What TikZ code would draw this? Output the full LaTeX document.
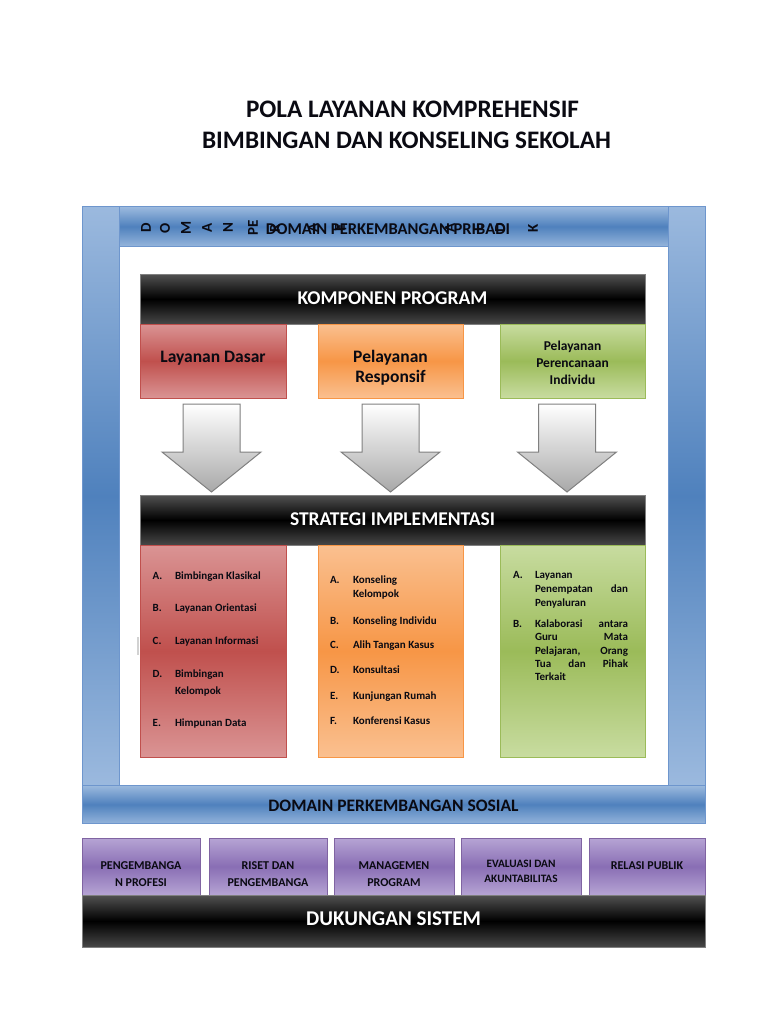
\documentclass[tikz,border=0pt]{standalone}
\usepackage{fontspec}
\setmainfont{Carlito}
\usetikzlibrary{calc}
\definecolor{blueL}{RGB}{155,185,222}
\definecolor{blueD}{RGB}{79,129,189}
\definecolor{blueB}{RGB}{110,150,205}
\definecolor{redL}{RGB}{218,148,148}
\definecolor{redD}{RGB}{192,80,77}
\definecolor{orL}{RGB}{250,192,144}
\definecolor{orD}{RGB}{247,150,70}
\definecolor{grL}{RGB}{200,220,160}
\definecolor{grD}{RGB}{155,187,89}
\definecolor{puL}{RGB}{182,164,212}
\definecolor{puD}{RGB}{137,110,180}
\definecolor{puB}{RGB}{128,100,162}
\definecolor{txt}{RGB}{10,10,18}
\definecolor{arrG}{RGB}{168,168,168}
\definecolor{arrB}{RGB}{128,128,128}
\tikzset{
  box/.style={inner sep=0pt, outer sep=0pt, line width=1pt},
  bluecol/.style={box, draw=blueB, top color=blueL, bottom color=blueL, middle color=blueD},
  blueband/.style={box, draw=blueB, top color=blueL, bottom color=blueL!90!blueD, middle color=blueD},
  blackbar/.style={box, draw=gray, top color=black!68, bottom color=black!72, middle color=black},
  redbox/.style={box, draw=redD, top color=redL, bottom color=redL, middle color=redD},
  orbox/.style={box, draw=orD, top color=orL, bottom color=orL, middle color=orD},
  grbox/.style={box, draw=grD, top color=grL, bottom color=grL, middle color=grD},
  pubox/.style={box, draw=puB, top color=puL, bottom color=puL, middle color=puD},
  lbl/.style={inner sep=0pt, outer sep=0pt, anchor=base, text=txt, font=\bfseries},
  wlbl/.style={inner sep=0pt, outer sep=0pt, anchor=base, text=white, font=\bfseries\fontsize{19.5}{20}\selectfont},
  itm/.style={inner sep=0pt, outer sep=0pt, anchor=base west, text=txt, font=\bfseries\fontsize{11}{13}\selectfont},
  rotl/.style={inner sep=0pt, outer sep=0pt, rotate=90, text=txt, font=\bfseries\fontsize{15}{15}\selectfont},
  puitm/.style={inner sep=0pt, outer sep=0pt, anchor=base, text=txt, font=\bfseries\fontsize{12}{13}\selectfont},
  bigarrow/.style={draw=arrB, line width=1pt, top color=white, bottom color=arrG},
}
\newcommand{\downblock}[1]{%
  \path[bigarrow] (#1-28.5,404) -- (#1+28.5,404) -- (#1+28.5,452) -- (#1+49.5,452)
    -- (#1,492) -- (#1-49.5,452) -- (#1-28.5,452) -- cycle;}
\begin{document}
\begin{tikzpicture}[x=1pt,y=-1pt]
\useasboundingbox[fill=white] (0,0) rectangle (768,1024);

% title
\node[lbl, font=\bfseries\fontsize{25.2}{26}\selectfont] (t1) at (412.5,118) {POLA LAYANAN KOMPREHENSIF};
\node[lbl, font=\bfseries\fontsize{25.2}{26}\selectfont] (t2) at (406.5,149) {BIMBINGAN DAN KONSELING SEKOLAH};

% blue frame
\node[bluecol, minimum width=37pt, minimum height=578pt] (lcol) at (100.5,496) {};
\node[bluecol, minimum width=37pt, minimum height=578pt] (rcol) at (686.5,496) {};
\node[blueband, minimum width=549pt, minimum height=39pt] (pribadi) at (393.5,226.5) {};
\node[blueband, minimum width=623pt, minimum height=38pt] (sosial) at (393.5,804.5) {};
\node[lbl, font=\bfseries\fontsize{17.5}{18}\selectfont] (sosialt) at (393.5,811.5) {DOMAIN PERKEMBANGAN SOSIAL};

% garbled top band text
\node[lbl, font=\bfseries\fontsize{16.5}{17}\selectfont] (pribadit) at (388,234.5) {DOMAIN PERKEMBANGAN PRIBADI};
\foreach \n/\x/\c in {r1/146/D, r2/165/O, r3/186/M, r4/207/A, r5/228/N, r6/253/PE, r7/275/R, r8/313/A, r9/340/E, r10/450/A, r11/478/E, r12/500/D, r13/533/K}
  \node[rotl] (\n) at (\x,228) {\c};

% komponen program
\node[blackbar, minimum width=505pt, minimum height=50pt] (komp) at (392.5,299) {};
\node[wlbl] (kompt) at (392.5,304.5) {KOMPONEN PROGRAM};
\node[redbox, minimum width=146pt, minimum height=74pt] (dasar) at (213,361) {};
\node[orbox, minimum width=145pt, minimum height=74pt] (respon) at (390.5,361) {};
\node[grbox, minimum width=145pt, minimum height=74pt] (indiv) at (572.5,361) {};
\node[lbl, font=\bfseries\fontsize{17.5}{18}\selectfont] (dasart) at (213,362) {Layanan Dasar};
\node[lbl, font=\bfseries\fontsize{17.5}{18}\selectfont] (respt1) at (390.5,362) {Pelayanan};
\node[lbl, font=\bfseries\fontsize{17.5}{18}\selectfont] (respt2) at (390.5,382.5) {Responsif};
\node[lbl, font=\bfseries\fontsize{13.5}{14}\selectfont] (indt1) at (572.5,350) {Pelayanan};
\node[lbl, font=\bfseries\fontsize{13.5}{14}\selectfont] (indt2) at (572.5,367) {Perencanaan};
\node[lbl, font=\bfseries\fontsize{13.5}{14}\selectfont] (indt3) at (572.5,384) {Individu};

% arrows
\downblock{211.5}
\downblock{390.5}
\downblock{567}

% strategi implementasi
\node[blackbar, minimum width=505pt, minimum height=50pt] (strat) at (392.5,520) {};
\node[wlbl] (stratt) at (392.5,525.5) {STRATEGI IMPLEMENTASI};
\node[redbox, minimum width=146pt, minimum height=212pt] (rlist) at (213,651) {};
\node[orbox, minimum width=145pt, minimum height=212pt] (olist) at (390.5,651) {};
\node[grbox, minimum width=145pt, minimum height=212pt] (glist) at (572.5,651) {};
\fill[gray!35] (137,637) rectangle (139,655);

\foreach \n/\y/\l/\t in {ra/579/A./Bimbingan Klasikal, rb/611.7/B./Layanan Orientasi, rc/644.3/C./Layanan Informasi, rd/677.3/D./Bimbingan, rd2/694/{}/Kelompok, re/726/E./Himpunan Data}{
  \node[itm] (\n l) at (152.7,\y) {\l};
  \node[itm] (\n t) at (175,\y) {\t};
}
\foreach \n/\y/\l/\t in {oa/583.3/A./Konseling, oa2/597.7/{}/Kelompok, ob/624/B./Konseling Individu, oc/648.3/C./Alih Tangan Kasus, od/673.3/D./Konsultasi, oe/699/E./Kunjungan Rumah, of/724/F./Konferensi Kasus}{
  \node[itm] (\n l) at (330,\y) {\l};
  \node[itm] (\n t) at (353,\y) {\t};
}
\foreach \n/\y/\l/\t in {ga/578.3/A./Layanan, ga2/592.7/{}/\makebox[93pt][s]{Penempatan dan}, ga3/606.7/{}/Penyaluran, gb/627.3/B./\makebox[93pt][s]{Kalaborasi antara}, gb2/640.7/{}/\makebox[93pt][s]{Guru Mata}, gb3/654/{}/\makebox[93pt][s]{Pelajaran, Orang}, gb4/667.3/{}/\makebox[93pt][s]{Tua dan Pihak}, gb5/680.7/{}/Terkait}{
  \node[itm] (\n l) at (513,\y) {\l};
  \node[itm] (\n t) at (535,\y) {\t};
}

% dukungan sistem
\node[pubox, minimum width=118pt, minimum height=57pt] (p1) at (141,866.5) {};
\node[pubox, minimum width=118pt, minimum height=57pt] (p2) at (268,866.5) {};
\node[pubox, minimum width=120pt, minimum height=57pt] (p3) at (394,866.5) {};
\node[pubox, minimum width=120pt, minimum height=57pt] (p4) at (521,866.5) {};
\node[pubox, minimum width=116pt, minimum height=57pt] (p5) at (647,866.5) {};
\node[puitm] (p1a) at (141,869.3) {PENGEMBANGA};
\node[puitm] (p1b) at (141,886) {N PROFESI};
\node[puitm] (p2a) at (268,869.3) {RISET DAN};
\node[puitm] (p2b) at (268,886) {PENGEMBANGA};
\node[puitm] (p3a) at (394,869.3) {MANAGEMEN};
\node[puitm] (p3b) at (394,886) {PROGRAM};
\node[puitm, font=\bfseries\fontsize{11.3}{12}\selectfont] (p4a) at (521,867.3) {EVALUASI DAN};
\node[puitm, font=\bfseries\fontsize{11.3}{12}\selectfont] (p4b) at (521,882.3) {AKUNTABILITAS};
\node[puitm] (p5a) at (647,869.3) {RELASI PUBLIK};
\node[blackbar, minimum width=623pt, minimum height=52pt] (duk) at (393.5,921) {};
\node[wlbl, font=\bfseries\fontsize{21}{22}\selectfont] (dukt) at (393.5,925.7) {DUKUNGAN SISTEM};
\end{tikzpicture}
\end{document}
